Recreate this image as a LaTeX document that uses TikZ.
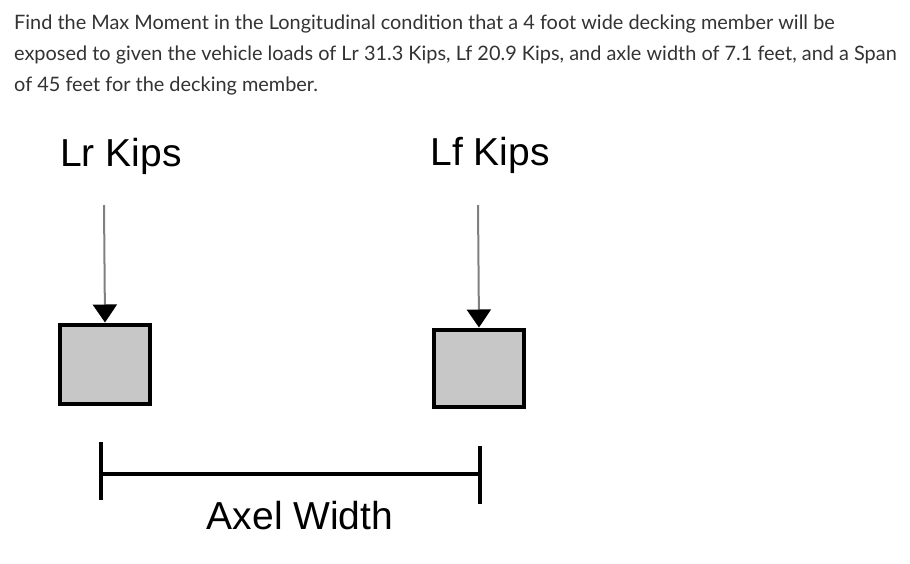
\documentclass[tikz,border=0pt]{standalone}
\usepackage{fontspec}
\usetikzlibrary{arrows.meta}
\setmainfont{Liberation Sans}
\newfontfamily\latofont{Lato}
\begin{document}
\begin{tikzpicture}[x=1pt,y=-1pt,
  box/.style={draw=black,line width=4pt,fill=black!22},
  load/.style={draw=black!50,line width=2pt,-{Triangle[length=18pt,width=24pt,fill=black,color=black]}},
  dim/.style={line width=3.5pt},
  big/.style={font=\fontsize{39}{44}\selectfont,inner sep=0pt},
  para/.style={font=\latofont\fontsize{19.9}{31}\selectfont,text=black!80,inner sep=0pt,anchor=base west}]
\useasboundingbox (0,0) rectangle (910,563);
\fill[white] (0,0) rectangle (910,563);
\node[para] (t1) at (14,29) {Find the Max Moment in the Longitudinal condition that a 4 foot wide decking member will be};
\node[para] (t2) at (14,60) {exposed to given the vehicle loads of Lr 31.3 Kips, Lf 20.9 Kips, and axle width of 7.1 feet, and a Span};
\node[para] (t3) at (14,91) {of 45 feet for the decking member.};
\node[big] (lr) at (121,156) {Lr Kips};
\node[big] (lf) at (490,155) {Lf Kips};
\node[box,minimum width=90pt,minimum height=79pt,inner sep=0pt] (b1) at (105,364) {};
\node[box,minimum width=90pt,minimum height=77pt,inner sep=0pt] (b2) at (479,368) {};
\coordinate (s1) at (104,205);
\coordinate (s2) at (478,205);
\draw[load] (s1) -- (b1.north);
\draw[load] (s2) -- (b2.north);
\coordinate (d1) at (101,474);
\coordinate (d2) at (480,474);
\draw[dim] (d1) -- (d2);
\draw[dim] (101,442) -- (101,500);
\draw[dim] (480,446) -- (480,504);
\node[big] (aw) at (300,516) {Axel Width};
\end{tikzpicture}
\end{document}
